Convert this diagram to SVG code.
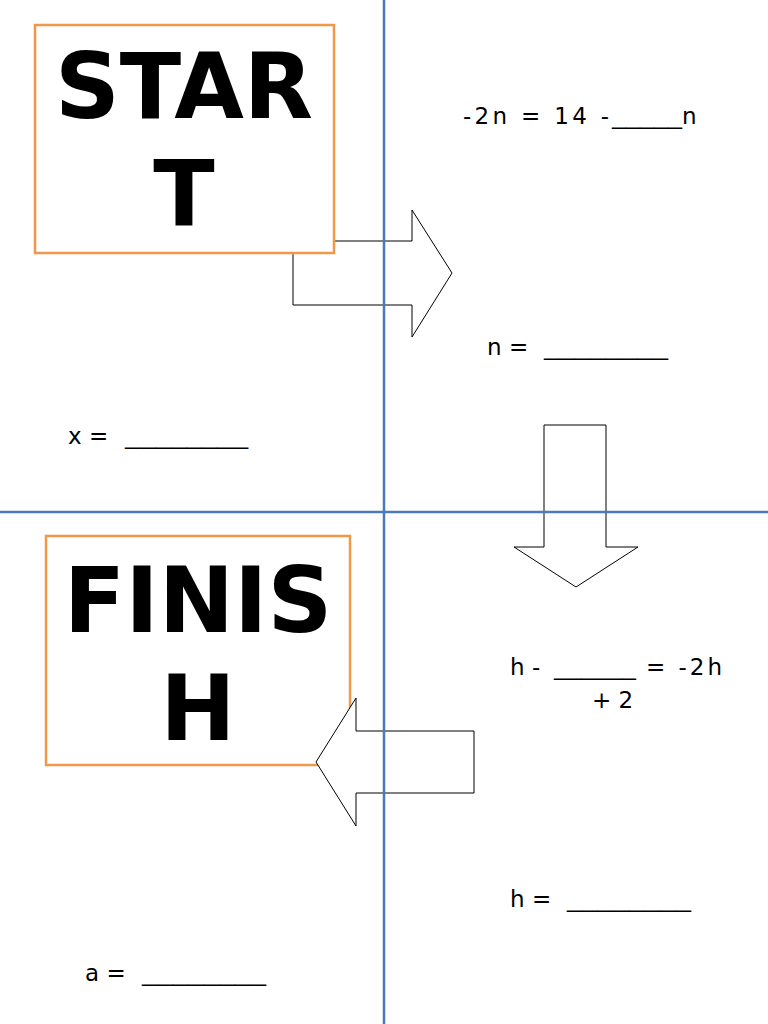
<svg xmlns="http://www.w3.org/2000/svg" width="768" height="1024" viewBox="0 0 768 1024">
<style>
.arrow{fill:#fff;stroke:#000;stroke-width:1}
.box{fill:#fff;stroke:#f0984a;stroke-width:2.5}
.big{font-family:"DejaVu Sans",sans-serif;font-weight:bold;font-size:90px;text-anchor:middle;fill:#000}
.t{font-family:"DejaVu Sans",sans-serif;font-size:23px;fill:#000}
.axis{stroke:#4a7ab8;stroke-width:2.5}
</style>
<rect width="768" height="1024" fill="#fff"/>
<g id="connectors">
<polygon class="arrow" points="293,241 412,241 412,210 452,273 412,337 412,305 293,305"/>
<polygon class="arrow" points="544,425 606,425 606,547 638,547 576,587 514,547 544,547"/>
</g>
<g id="start">
<rect class="box" x="35" y="25" width="299" height="228"/>
<text class="big" x="184" y="118">STAR</text>
<text class="big" x="184" y="225">T</text>
</g>
<g id="finish">
<rect class="box" x="46" y="536" width="304" height="229"/>
<text class="big" x="198" y="632">FINIS</text>
<text class="big" x="198" y="740">H</text>
</g>
<g id="connectors2">
<polygon class="arrow" points="474,731 474,793 356,793 356,826 316,762 356,698 356,731"/>
</g>
<g id="axes">
<line class="axis" x1="384" y1="0" x2="384" y2="1024"/>
<line class="axis" x1="0" y1="512" x2="768" y2="512"/>
</g>
<g id="texts">
<text class="t" x="463" y="124" textLength="146" lengthAdjust="spacing">-2n = 14 -</text>
<text class="t" x="612" y="124" textLength="70" lengthAdjust="spacingAndGlyphs">_____</text>
<text class="t" x="682" y="124">n</text>
<text class="t" x="487" y="355">n =</text>
<text class="t" x="544" y="355" textLength="124" lengthAdjust="spacingAndGlyphs">________</text>
<text class="t" x="68" y="444">x =</text>
<text class="t" x="125" y="444" textLength="123" lengthAdjust="spacingAndGlyphs">________</text>
<text class="t" x="510" y="675">h -</text>
<text class="t" x="554" y="675" textLength="82" lengthAdjust="spacingAndGlyphs">______</text>
<text class="t" x="646" y="675" textLength="76" lengthAdjust="spacing">= -2h</text>
<text class="t" x="592" y="708">+ 2</text>
<text class="t" x="510" y="907">h =</text>
<text class="t" x="567" y="907" textLength="124" lengthAdjust="spacingAndGlyphs">________</text>
<text class="t" x="85" y="981">a =</text>
<text class="t" x="142" y="981" textLength="124" lengthAdjust="spacingAndGlyphs">________</text>
</g>
</svg>
